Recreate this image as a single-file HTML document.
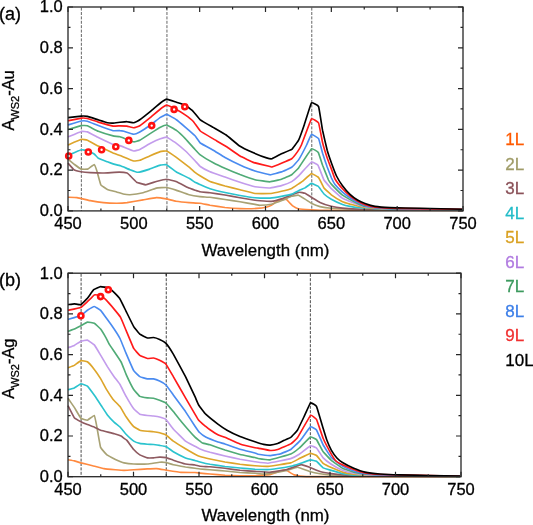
<!DOCTYPE html>
<html><head><meta charset="utf-8"><style>
html,body{margin:0;padding:0;background:#fff;}
body{width:533px;height:525px;overflow:hidden;}
svg{display:block;will-change:transform;}
text{font-family:"Liberation Sans",sans-serif;}
.tl{font-size:16.5px;fill:#000;stroke:#000;stroke-width:0.3px;}
.lg{font-size:17px;stroke-width:0.3px;}
.pl{font-size:18px;fill:#000;stroke:#000;stroke-width:0.3px;}
.yl{font-size:16.4px;fill:#000;stroke:#000;stroke-width:0.3px;}
.xt{font-size:16.9px;fill:#000;stroke:#000;stroke-width:0.3px;}
.sub{font-size:11px;}
</style></head><body>
<svg width="533" height="525" viewBox="0 0 533 525">
<rect width="533" height="525" fill="#fff"/>
<line x1="81.37" y1="7.6" x2="81.37" y2="210.9" stroke="#4a4a4a" stroke-width="0.85" stroke-dasharray="3 1.4"/>
<line x1="166.95" y1="7.6" x2="166.95" y2="210.9" stroke="#4a4a4a" stroke-width="0.85" stroke-dasharray="3 1.4"/>
<line x1="311.78" y1="7.6" x2="311.78" y2="210.9" stroke="#4a4a4a" stroke-width="0.85" stroke-dasharray="3 1.4"/>
<path d="M68,197.2 C68.38,197.22 76.17,197.46 77.1,197.6 C78.03,197.74 89.2,200.39 90.3,200.6 C91.4,200.81 102.3,202.49 103.4,202.6 C104.5,202.71 115.61,203.2 116.6,203.2 C117.59,203.2 126,202.74 127.1,202.6 C128.2,202.46 141.88,200.11 143.1,199.9 C144.32,199.69 155.33,197.64 156.3,197.6 C157.27,197.56 165.58,198.75 166.4,198.9 C167.22,199.05 175.05,201.05 176,201.2 C176.95,201.35 188.1,202.52 189.1,202.6 C190.1,202.68 199.13,203.09 200,203.2 C200.87,203.31 208.96,205.12 210,205.3 C211.04,205.48 223.75,207.36 225,207.5 C226.25,207.64 238.67,208.56 240,208.6 C241.33,208.64 255.88,208.47 257,208.4 C258.12,208.33 266.4,207.13 267,207 C267.6,206.87 270.89,205.53 271.3,205.3 C271.71,205.07 276.43,201.66 276.9,201.4 C277.37,201.14 282.1,199.18 282.5,199.1 C282.9,199.02 286.22,199.26 286.5,199.4 C286.78,199.54 289.04,202.23 289.3,202.5 C289.56,202.77 292.32,205.64 292.7,205.9 C293.07,206.16 297.55,208.54 298.3,208.7 C299.05,208.86 309.8,209.74 310.7,209.8 C311.6,209.86 313.7,210.18 320,210.2 C326.3,210.22 456.08,210.3 462,210.3" fill="none" stroke="#FF8A40" stroke-width="1.65" stroke-linejoin="round"/>
<path d="M68,159.2 C68.27,159.42 73.95,164.09 74.5,164.5 C75.05,164.91 80.55,168.91 81.1,169.1 C81.65,169.29 87.15,169.29 87.7,169.1 C88.25,168.91 93.82,164.42 94.2,164.5 C94.58,164.58 96.62,170.15 96.9,171 C97.18,171.85 100.36,184.03 100.8,184.8 C101.24,185.57 106.74,189.1 107.4,189.4 C108.06,189.7 115.95,191.81 116.6,192 C117.25,192.19 122.54,193.89 123.1,194 C123.66,194.11 129.17,194.75 130,194.7 C130.83,194.65 142,192.97 143.1,192.7 C144.2,192.42 155.33,188.32 156.3,188.1 C157.27,187.88 165.58,187.42 166.4,187.5 C167.22,187.58 175.05,189.8 176,190.1 C176.95,190.4 188.1,194.43 189.1,194.7 C190.1,194.97 199.13,196.49 200,196.6 C200.87,196.71 208.96,197.18 210,197.3 C211.04,197.42 223.75,199.31 225,199.5 C226.25,199.69 238.75,201.6 240,201.8 C241.25,202 254.17,204.25 255,204.4 C255.83,204.55 259.32,205.31 260,205.3 C260.68,205.29 270.36,204.41 271.3,204.2 C272.24,203.99 281.66,200.63 282.5,200.3 C283.34,199.97 290.84,196.51 291.5,196.3 C292.16,196.09 297.74,195.08 298.3,195.2 C298.86,195.32 304.44,198.75 305,199.1 C305.56,199.45 311.18,203.29 311.8,203.6 C312.43,203.91 319.19,206.4 320,206.6 C320.81,206.8 329.63,208.18 331.3,208.3 C332.97,208.42 354.55,209.43 360,209.5 C365.45,209.57 457.75,210.07 462,210.1" fill="none" stroke="#A8A274" stroke-width="1.65" stroke-linejoin="round"/>
<path d="M68,163.1 C68.25,163.38 73.35,169.34 73.9,169.7 C74.45,170.06 80.42,171.58 81.1,171.7 C81.78,171.82 89.37,172.55 90.3,172.6 C91.23,172.65 102.2,173.02 103.4,173 C104.6,172.98 118.21,172.1 119.2,172.1 C120.19,172.1 126.65,172.85 127.1,173 C127.55,173.15 129.6,175.22 130,175.6 C130.4,175.98 135.94,181.82 136.6,182.2 C137.26,182.58 144.98,184.83 145.8,184.8 C146.62,184.77 155.44,181.73 156.3,181.5 C157.16,181.27 165.58,179.2 166.4,179.2 C167.22,179.2 175.05,181.13 176,181.5 C176.95,181.87 188.31,187.74 189.1,188.1 C189.89,188.46 194.55,190.05 195,190.2 C195.45,190.35 199.38,191.69 200,191.8 C200.62,191.91 208.96,192.67 210,192.8 C211.04,192.93 223.75,194.8 225,195 C226.25,195.2 238.75,197.48 240,197.7 C241.25,197.92 254.17,200.17 255,200.3 C255.83,200.43 259.32,200.75 260,200.8 C260.68,200.85 270.36,201.49 271.3,201.4 C272.24,201.31 281.56,198.9 282.5,198.6 C283.44,198.3 293.1,194.37 293.8,194.1 C294.5,193.83 298.93,192.23 299.4,192.2 C299.87,192.17 304.48,193.08 305,193.3 C305.52,193.52 311.18,197.12 311.8,197.5 C312.43,197.88 319.19,202.03 320,202.4 C320.81,202.77 330.36,206.06 331.3,206.3 C332.24,206.54 341.3,207.98 342.5,208.1 C343.7,208.22 355.02,209.12 360,209.2 C364.98,209.28 457.75,209.97 462,210" fill="none" stroke="#8E5A60" stroke-width="1.65" stroke-linejoin="round"/>
<path d="M68,155.3 C68.56,155.07 80.59,149.99 81.4,149.8 C82.21,149.61 86.87,150.52 87.4,150.7 C87.93,150.88 93.75,153.69 94.2,154 C94.65,154.31 97.75,157.88 98.3,158.2 C98.85,158.52 106.78,161.56 107.4,161.8 C108.02,162.04 112.55,163.73 113.1,163.9 C113.65,164.07 119.8,165.56 120.5,165.8 C121.2,166.04 129.28,169.43 130,169.7 C130.72,169.97 137.08,172.33 137.9,172.3 C138.72,172.28 148.77,169.4 149.7,169.1 C150.63,168.8 159.5,165.28 160.2,165.1 C160.9,164.92 165.74,164.42 166.4,164.7 C167.06,164.97 175.05,171.13 176,171.7 C176.95,172.27 188.31,177.86 189.1,178.3 C189.89,178.74 194.55,182.04 195,182.3 C195.45,182.56 199.38,184.23 200,184.5 C200.62,184.77 208.96,188.37 210,188.7 C211.04,189.03 223.75,192.22 225,192.5 C226.25,192.78 238.75,195.28 240,195.5 C241.25,195.72 253.75,197.59 255,197.7 C256.25,197.81 268.9,198.15 270,198.1 C271.1,198.05 280.5,196.57 281.4,196.4 C282.3,196.23 290.98,194.34 291.7,194.1 C292.42,193.86 298.05,190.96 298.6,190.7 C299.15,190.44 304.47,188.2 305,187.9 C305.53,187.6 310.86,183.47 311.4,183.4 C311.94,183.33 317.64,185.88 318,186.1 C318.36,186.32 319.75,188.27 320,188.6 C320.25,188.93 323.53,193.55 324,194 C324.47,194.45 330.53,198.86 331.3,199.3 C332.07,199.74 341.72,204.2 342.5,204.5 C343.28,204.8 349.38,206.28 350,206.4 C350.62,206.53 355.62,207.37 357.5,207.5 C359.38,207.63 390.65,209.5 395,209.6 C399.35,209.7 459.21,209.89 462,209.9" fill="none" stroke="#2BC3CE" stroke-width="1.65" stroke-linejoin="round"/>
<path d="M68,145 C68.56,144.76 80.59,139.5 81.4,139.3 C82.21,139.1 86.7,139.92 87.4,140.2 C88.1,140.48 97.23,145.57 98.3,146.1 C99.37,146.63 112.2,152.61 113.1,153 C114,153.39 119.14,155.17 120,155.5 C120.86,155.83 132.88,160.8 133.7,161 C134.52,161.2 139.13,160.51 139.8,160.3 C140.47,160.09 148.85,156.26 149.7,155.9 C150.55,155.54 159.5,151.8 160.2,151.6 C160.9,151.4 165.74,150.77 166.4,151 C167.06,151.23 175.05,156.53 176,157.2 C176.95,157.87 188.31,166.47 189.1,167.1 C189.89,167.73 194.55,171.94 195,172.3 C195.45,172.66 199.38,175.42 200,175.8 C200.62,176.18 208.96,181.07 210,181.5 C211.04,181.93 223.75,185.65 225,186 C226.25,186.35 238.75,189.49 240,189.8 C241.25,190.11 253.71,193.35 255,193.5 C256.29,193.65 269.9,193.59 271,193.5 C272.1,193.41 280.54,191.51 281.4,191.3 C282.26,191.09 290.98,188.71 291.7,188.4 C292.42,188.09 298.14,184.2 298.6,183.9 C299.06,183.6 302.27,181.53 302.8,181.1 C303.33,180.67 310.77,173.77 311.4,173.6 C312.03,173.43 317.64,176.73 318,177 C318.36,177.27 319.75,179.64 320,180.1 C320.25,180.56 323.53,187.39 324,188 C324.47,188.61 330.53,194.23 331.3,194.8 C332.07,195.37 341.72,201.31 342.5,201.7 C343.28,202.09 349.38,203.92 350,204.1 C350.62,204.28 356.88,205.86 357.5,206 C358.12,206.14 363.44,207.35 365,207.5 C366.56,207.65 390.96,209.4 395,209.5 C399.04,209.6 459.21,209.79 462,209.8" fill="none" stroke="#DDA52A" stroke-width="1.65" stroke-linejoin="round"/>
<path d="M68,137 C68.56,136.77 80.59,131.71 81.4,131.5 C82.21,131.29 86.7,131.65 87.4,131.9 C88.1,132.15 97.23,137.08 98.3,137.6 C99.37,138.12 112.2,144.07 113.1,144.4 C114,144.73 119.14,145.32 120,145.6 C120.86,145.88 132.88,150.84 133.7,151 C134.52,151.16 139.1,149.72 139.8,149.4 C140.5,149.08 149.64,143.74 150.5,143.3 C151.36,142.86 159.72,139.05 160.4,138.8 C161.08,138.55 166.13,137.01 166.8,137.2 C167.47,137.39 175.62,142.73 176.4,143.3 C177.18,143.88 184.72,150.27 185.5,151 C186.28,151.73 194.38,160.15 195,160.8 C195.62,161.45 199.68,166.04 200.3,166.5 C200.93,166.96 208.97,171.36 210,171.8 C211.03,172.24 223.75,176.56 225,177 C226.25,177.44 238.75,181.89 240,182.3 C241.25,182.71 253.75,186.56 255,186.8 C256.25,187.04 268.9,188.05 270,188 C271.1,187.95 280.5,185.87 281.4,185.6 C282.3,185.33 290.98,182 291.7,181.6 C292.42,181.2 297.78,176.71 298.6,175.9 C299.42,175.09 310.59,162.54 311.4,162.1 C312.21,161.66 317.48,164.55 318,165.3 C318.52,166.05 323.45,179.03 324,180 C324.55,180.97 330.53,187.84 331.3,188.6 C332.07,189.36 341.72,197.76 342.5,198.3 C343.28,198.84 349.38,201.24 350,201.5 C350.62,201.76 356.88,204.28 357.5,204.5 C358.12,204.72 363.44,206.6 365,206.8 C366.56,207 390.96,209.28 395,209.4 C399.04,209.52 459.21,209.69 462,209.7" fill="none" stroke="#C39CEC" stroke-width="1.65" stroke-linejoin="round"/>
<path d="M68,129.6 C68.56,129.43 80.59,125.76 81.4,125.6 C82.21,125.44 86.7,125.56 87.4,125.8 C88.1,126.04 97.23,130.88 98.3,131.3 C99.37,131.72 112.2,135.67 113.1,135.9 C114,136.13 119.14,136.55 120,136.8 C120.86,137.05 132.88,141.65 133.7,141.8 C134.52,141.95 139.1,140.65 139.8,140.3 C140.5,139.95 149.64,133.94 150.5,133.4 C151.36,132.86 159.72,127.65 160.4,127.3 C161.08,126.95 166.13,124.87 166.8,125 C167.47,125.13 175.62,129.83 176.4,130.4 C177.18,130.97 184.72,138 185.5,138.8 C186.28,139.6 194.38,148.83 195,149.5 C195.62,150.17 199.54,154.35 200.3,154.9 C201.06,155.45 212.23,162.22 213.3,162.8 C214.37,163.38 224.89,168.31 226,168.8 C227.11,169.29 238.79,174.14 240,174.6 C241.21,175.06 253.75,179.5 255,179.8 C256.25,180.1 268.9,181.82 270,181.8 C271.1,181.78 280.5,179.6 281.4,179.3 C282.3,179 290.98,175.17 291.7,174.7 C292.42,174.22 297.78,168.98 298.6,167.9 C299.43,166.82 310.68,149.44 311.5,148.8 C312.32,148.16 317.84,151.81 318.3,152.5 C318.76,153.19 322.18,164.15 322.6,165.3 C323.03,166.45 328.14,179.22 328.5,180 C328.86,180.78 330.72,183.47 331.3,184.1 C331.88,184.73 341.72,194.55 342.5,195.2 C343.28,195.85 349.38,199.26 350,199.6 C350.62,199.94 356.88,203.12 357.5,203.4 C358.12,203.68 363.44,206.05 365,206.3 C366.56,206.55 390.96,209.16 395,209.3 C399.04,209.44 459.21,209.59 462,209.6" fill="none" stroke="#50AB76" stroke-width="1.65" stroke-linejoin="round"/>
<path d="M68,125 C68.56,124.83 80.59,121.16 81.4,121 C82.21,120.84 86.7,121.01 87.4,121.2 C88.1,121.39 97.23,125.2 98.3,125.6 C99.37,126 112.2,130.49 113.1,130.7 C114,130.91 119.55,130.57 120,130.6 C120.45,130.62 123.43,131.15 124,131.3 C124.57,131.45 133.04,134.17 133.7,134.2 C134.36,134.22 139.1,132.28 139.8,131.9 C140.5,131.52 149.64,125.6 150.5,125 C151.36,124.4 159.72,117.84 160.4,117.4 C161.08,116.96 166.13,114.3 166.8,114.4 C167.47,114.5 175.62,119.16 176.4,119.7 C177.18,120.24 184.72,126.63 185.5,127.3 C186.28,127.97 194.38,135.15 195,135.8 C195.62,136.45 199.54,142.4 200.3,143 C201.06,143.6 212.27,149.7 213.3,150.3 C214.33,150.9 223.89,156.89 225,157.5 C226.11,158.11 238.75,164.44 240,165 C241.25,165.56 253.75,170.59 255,171 C256.25,171.41 268.9,174.76 270,174.8 C271.1,174.84 280.5,172.21 281.4,171.9 C282.3,171.59 290.98,167.8 291.7,167.3 C292.42,166.8 297.98,160.83 298.6,159.9 C299.22,158.97 306.07,146.06 306.6,145 C307.13,143.94 310.9,134.67 311.4,134.4 C311.9,134.13 318.13,137.81 318.6,138.6 C319.07,139.39 322.24,152.12 322.6,153.3 C322.96,154.48 326.83,165.97 327.2,167 C327.57,168.03 331.18,177.27 331.5,178 C331.82,178.73 334.54,183.91 335,184.5 C335.46,185.09 341.88,191.55 342.5,192.1 C343.12,192.65 349.38,197.38 350,197.8 C350.62,198.23 356.88,201.98 357.5,202.3 C358.12,202.62 364.27,205.38 365,205.6 C365.73,205.82 373.75,207.47 375,207.6 C376.25,207.73 391.38,208.72 395,208.8 C398.62,208.88 459.21,209.47 462,209.5" fill="none" stroke="#4A8BF0" stroke-width="1.65" stroke-linejoin="round"/>
<path d="M68,120.7 C68.56,120.59 80.59,118.19 81.4,118.1 C82.21,118.01 86.7,118.33 87.4,118.5 C88.1,118.67 97.23,121.78 98.3,122.1 C99.37,122.42 112.2,125.95 113.1,126.1 C114,126.25 119.42,125.8 120,125.8 C120.58,125.8 126.33,126.02 126.9,126.1 C127.47,126.18 133.16,127.81 133.7,127.8 C134.24,127.79 139.1,126.23 139.8,125.8 C140.5,125.37 149.64,118.1 150.5,117.4 C151.36,116.7 159.72,109.51 160.4,109 C161.08,108.49 166.13,105.18 166.8,105.2 C167.47,105.22 175.62,109.09 176.4,109.5 C177.18,109.91 184.8,114.61 185.5,115.1 C186.2,115.59 192.48,120.54 193.1,121.2 C193.72,121.86 199.46,130.26 200.3,131 C201.14,131.74 212.22,138.25 213.3,138.9 C214.38,139.55 225.09,145.79 226.2,146.5 C227.31,147.21 238.84,155.33 240,156 C241.16,156.67 252.75,162.16 254,162.6 C255.25,163.04 269.25,166.32 270,166.5 C270.75,166.68 271.52,167.13 272,167 C272.48,166.87 280.58,163.65 281.4,163.3 C282.22,162.95 291.03,159.17 291.7,158.7 C292.37,158.22 297,152.47 297.4,151.9 C297.8,151.33 300.82,146.37 301.4,145 C301.98,143.63 310.68,119.92 311.4,119 C312.12,118.08 318.13,122.01 318.6,123 C319.07,123.99 322.24,141.25 322.6,142.7 C322.96,144.15 326.82,156.76 327.2,157.9 C327.58,159.04 331.48,169.22 331.8,170.1 C332.12,170.98 334.55,178.22 335,179 C335.45,179.78 341.88,188.1 342.5,188.8 C343.12,189.5 349.38,195.39 350,195.9 C350.62,196.41 356.88,200.73 357.5,201.1 C358.12,201.47 364.27,204.45 365,204.7 C365.73,204.95 373.75,206.95 375,207.1 C376.25,207.25 391.38,208.31 395,208.4 C398.62,208.49 459.21,209.26 462,209.3" fill="none" stroke="#FF1A1A" stroke-width="1.65" stroke-linejoin="round"/>
<path d="M68,117.6 C68.56,117.54 80.59,116.15 81.4,116.1 C82.21,116.05 86.7,116.24 87.4,116.4 C88.1,116.56 97.47,119.64 98.3,119.9 C99.13,120.16 106.78,122.57 107.4,122.7 C108.02,122.83 112.57,123.12 113.1,123.1 C113.62,123.08 119.42,122.36 120,122.3 C120.58,122.24 126.33,121.68 126.9,121.7 C127.47,121.72 133.16,122.88 133.7,122.8 C134.24,122.72 139.1,120.18 139.8,119.7 C140.5,119.22 149.64,112 150.5,111.3 C151.36,110.6 159.72,103.51 160.4,103 C161.08,102.49 166.13,99.13 166.8,99.1 C167.47,99.07 175.62,101.95 176.4,102.2 C177.18,102.45 184.8,104.82 185.5,105.2 C186.2,105.58 192.48,110.69 193.1,111.3 C193.72,111.91 199.46,119.13 200.3,119.8 C201.14,120.47 212.22,126.77 213.3,127.4 C214.38,128.03 225.12,134.24 226.2,135 C227.28,135.76 238.09,144.97 239.2,145.7 C240.31,146.43 251.76,152.09 252.9,152.6 C254.04,153.11 265.8,157.65 266.6,157.9 C267.4,158.15 271.38,158.87 272,158.7 C272.62,158.53 280.58,154.19 281.4,153.8 C282.22,153.41 290.98,149.97 291.7,149.4 C292.42,148.83 298.08,141.13 298.6,140.1 C299.12,139.07 303.77,126.25 304.3,124.7 C304.83,123.15 310.8,103.75 311.4,103 C312,102.25 318.13,105.45 318.6,106.6 C319.07,107.75 322.24,128.68 322.6,130.5 C322.96,132.32 326.82,148.9 327.2,150.3 C327.58,151.7 331.41,162.93 331.8,164 C332.19,165.07 336.05,175.09 336.5,176 C336.95,176.91 341.94,185.03 342.5,185.8 C343.06,186.57 349.38,193.81 350,194.4 C350.62,194.99 356.88,199.62 357.5,200 C358.12,200.38 364.27,203.23 365,203.5 C365.73,203.77 373.96,206.23 375,206.4 C376.04,206.57 388.12,207.52 390,207.6 C391.88,207.68 417,208.23 420,208.3 C423,208.37 460.25,209.16 462,209.2" fill="none" stroke="#000000" stroke-width="1.65" stroke-linejoin="round"/>
<circle cx="68.7" cy="156" r="2.5" fill="#fff" stroke="#FF1010" stroke-width="2.6"/>
<circle cx="88.3" cy="152" r="2.5" fill="#fff" stroke="#FF1010" stroke-width="2.6"/>
<circle cx="101.6" cy="149.8" r="2.5" fill="#fff" stroke="#FF1010" stroke-width="2.6"/>
<circle cx="115.8" cy="146.7" r="2.5" fill="#fff" stroke="#FF1010" stroke-width="2.6"/>
<circle cx="128.8" cy="140.4" r="2.5" fill="#fff" stroke="#FF1010" stroke-width="2.6"/>
<circle cx="151.7" cy="125.6" r="2.5" fill="#fff" stroke="#FF1010" stroke-width="2.6"/>
<circle cx="174.1" cy="109.4" r="2.5" fill="#fff" stroke="#FF1010" stroke-width="2.6"/>
<circle cx="184.8" cy="106.8" r="2.5" fill="#fff" stroke="#FF1010" stroke-width="2.6"/>
<path d="M68,210.9 V205.9 M68,7 V12 M100.92,210.9 V208.4 M100.92,7 V9.5 M133.83,210.9 V205.9 M133.83,7 V12 M166.75,210.9 V208.4 M166.75,7 V9.5 M199.67,210.9 V205.9 M199.67,7 V12 M232.58,210.9 V208.4 M232.58,7 V9.5 M265.5,210.9 V205.9 M265.5,7 V12 M298.42,210.9 V208.4 M298.42,7 V9.5 M331.33,210.9 V205.9 M331.33,7 V12 M364.25,210.9 V208.4 M364.25,7 V9.5 M397.17,210.9 V205.9 M397.17,7 V12 M430.08,210.9 V208.4 M430.08,7 V9.5 M463,210.9 V205.9 M463,7 V12 M68,210.9 H73 M463,210.9 H458 M68,190.51 H70.5 M463,190.51 H460.5 M68,170.12 H73 M463,170.12 H458 M68,149.73 H70.5 M463,149.73 H460.5 M68,129.34 H73 M463,129.34 H458 M68,108.95 H70.5 M463,108.95 H460.5 M68,88.56 H73 M463,88.56 H458 M68,68.17 H70.5 M463,68.17 H460.5 M68,47.78 H73 M463,47.78 H458 M68,27.39 H70.5 M463,27.39 H460.5 M68,7 H73 M463,7 H458" fill="none" stroke="#262626" stroke-width="1.2"/>
<rect x="68" y="7" width="395" height="203.9" fill="none" stroke="#262626" stroke-width="1.3"/>
<text x="68" y="228.6" text-anchor="middle" class="tl">450</text>
<text x="133.83" y="228.6" text-anchor="middle" class="tl">500</text>
<text x="199.67" y="228.6" text-anchor="middle" class="tl">550</text>
<text x="265.5" y="228.6" text-anchor="middle" class="tl">600</text>
<text x="331.33" y="228.6" text-anchor="middle" class="tl">650</text>
<text x="397.17" y="228.6" text-anchor="middle" class="tl">700</text>
<text x="463" y="228.6" text-anchor="middle" class="tl">750</text>
<text x="62.7" y="216.2" text-anchor="end" class="tl">0.0</text>
<text x="62.7" y="175.42" text-anchor="end" class="tl">0.2</text>
<text x="62.7" y="134.64" text-anchor="end" class="tl">0.4</text>
<text x="62.7" y="93.86" text-anchor="end" class="tl">0.6</text>
<text x="62.7" y="53.08" text-anchor="end" class="tl">0.8</text>
<text x="62.7" y="12.3" text-anchor="end" class="tl">1.0</text>
<line x1="81.1" y1="273.8" x2="81.1" y2="476.7" stroke="#4a4a4a" stroke-width="1" stroke-dasharray="3 1.4"/>
<line x1="166.25" y1="273.8" x2="166.25" y2="476.7" stroke="#4a4a4a" stroke-width="1" stroke-dasharray="3 1.4"/>
<line x1="310.35" y1="273.8" x2="310.35" y2="476.7" stroke="#4a4a4a" stroke-width="1" stroke-dasharray="3 1.4"/>
<path d="M68,459.8 C68.26,459.85 73.76,460.77 74.3,460.9 C74.84,461.03 80.14,462.7 80.9,462.9 C81.66,463.1 91.64,465.46 92.6,465.7 C93.56,465.94 103.05,468.43 104,468.6 C104.95,468.77 114.57,469.63 115.4,469.7 C116.23,469.77 123.24,470.3 124,470.3 C124.76,470.3 132.72,469.86 133.7,469.8 C134.67,469.74 146.45,468.95 147.4,468.9 C148.35,468.85 155.82,468.55 156.6,468.6 C157.38,468.65 164.98,469.94 166,470.1 C167.02,470.26 179.79,472.3 181,472.4 C182.21,472.5 194.21,472.47 195,472.5 C195.79,472.53 199.38,473.04 200,473.1 C200.62,473.16 208.96,473.91 210,474 C211.04,474.09 223.75,475.22 225,475.3 C226.25,475.38 238.75,475.88 240,475.9 C241.25,475.92 253.96,475.94 255,475.9 C256.04,475.86 264.38,474.95 265,474.9 C265.62,474.85 269.36,474.96 270,474.8 C270.64,474.64 279.75,471.21 280.4,471 C281.05,470.79 285.03,469.64 285.6,469.8 C286.18,469.96 293.34,474.62 294.2,474.9 C295.06,475.18 299.29,476.53 306.2,476.6 C313.11,476.67 453.59,476.6 460,476.6" fill="none" stroke="#FF8A40" stroke-width="1.65" stroke-linejoin="round"/>
<path d="M68,398.3 C68.26,398.68 73.76,406.57 74.3,407.4 C74.84,408.23 80.35,417.77 80.9,418.3 C81.45,418.83 86.84,420.32 87.4,420.2 C87.96,420.08 93.9,415.12 94.3,415.4 C94.7,415.68 96.64,425.67 96.9,427 C97.16,428.33 100.18,446.24 100.6,447.4 C101.02,448.56 106.28,454.4 106.9,454.9 C107.52,455.4 114.85,459.13 115.4,459.4 C115.95,459.67 119.64,461.25 120,461.4 C120.36,461.55 123.43,462.79 124,462.9 C124.57,463.01 132.72,463.95 133.7,464 C134.67,464.05 146.32,464.07 147.4,464 C148.48,463.93 158.82,462.26 159.6,462.2 C160.38,462.14 165.43,462.39 166,462.5 C166.57,462.61 172.49,464.61 173.3,464.8 C174.11,464.99 184.6,466.85 185.5,467 C186.4,467.15 194.4,468.22 195,468.3 C195.6,468.38 199.38,468.94 200,469 C200.62,469.06 208.96,469.72 210,469.8 C211.04,469.88 223.75,470.89 225,471 C226.25,471.11 238.75,472.4 240,472.5 C241.25,472.6 253.96,473.24 255,473.3 C256.04,473.36 263.73,474.11 265,474 C266.27,473.89 284.24,470.88 285.6,470.6 C286.96,470.32 296.6,467.16 297.6,467.2 C298.6,467.24 308.67,471.23 309.6,471.5 C310.53,471.77 319.1,473.65 320,473.8 C320.9,473.95 329.63,475 331.3,475.1 C332.97,475.2 354.64,476.14 360,476.2 C365.36,476.26 455.83,476.58 460,476.6" fill="none" stroke="#A8A274" stroke-width="1.65" stroke-linejoin="round"/>
<path d="M68,405.7 C68.26,406.2 73.76,417.03 74.3,417.7 C74.84,418.37 80.35,421.41 80.9,421.7 C81.45,421.99 86.82,424.36 87.4,424.6 C87.98,424.84 94.35,427.16 94.9,427.4 C95.45,427.64 99.79,430.04 100.6,430.3 C101.41,430.56 113.45,433.46 114.3,433.7 C115.15,433.94 120.7,435.81 121.1,436 C121.5,436.19 123.76,438.12 124,438.3 C124.24,438.48 126.5,439.93 126.9,440.4 C127.3,440.87 133.16,448.9 133.7,449.5 C134.24,450.1 139.23,454.55 139.8,454.9 C140.37,455.25 146.83,457.77 147.4,457.9 C147.97,458.02 152.99,457.93 153.5,457.9 C154.01,457.87 159.08,457.11 159.6,457.1 C160.12,457.09 165.43,457.47 166,457.6 C166.57,457.73 172.49,459.93 173.3,460.2 C174.11,460.47 184.6,463.8 185.5,464 C186.4,464.2 194.4,464.9 195,465 C195.6,465.1 199.38,466.23 200,466.3 C200.62,466.38 208.96,466.72 210,466.8 C211.04,466.88 223.75,468.15 225,468.3 C226.25,468.45 238.75,470.17 240,470.3 C241.25,470.43 253.75,471.32 255,471.4 C256.25,471.48 268.73,472.37 270,472.3 C271.27,472.23 284.31,470.12 285.6,469.8 C286.89,469.48 300,464.71 301,464.6 C302,464.49 308.81,466.91 309.6,467.2 C310.39,467.49 319.1,471.23 320,471.5 C320.9,471.77 330.36,473.46 331.3,473.6 C332.24,473.74 341.3,474.81 342.5,474.9 C343.7,474.99 355.1,475.73 360,475.8 C364.9,475.87 455.83,476.57 460,476.6" fill="none" stroke="#8E5A60" stroke-width="1.65" stroke-linejoin="round"/>
<path d="M68,389.7 C68.26,389.63 73.76,388.25 74.3,388 C74.84,387.75 80.35,383.88 80.9,383.8 C81.45,383.72 86.82,385.59 87.4,386.1 C87.98,386.61 94.3,395.16 94.9,396 C95.5,396.84 101.18,405.51 101.7,406.3 C102.22,407.09 106.88,414.23 107.4,414.9 C107.93,415.57 113.77,421.8 114.3,422.3 C114.83,422.8 119.51,426.5 120,427 C120.49,427.5 125.53,433.71 126.1,434.3 C126.67,434.89 133.13,440.72 133.7,441.1 C134.27,441.48 139.23,443.27 139.8,443.4 C140.37,443.53 146.83,444.15 147.4,444.2 C147.97,444.25 152.99,444.45 153.5,444.5 C154.01,444.55 159.08,445.32 159.6,445.4 C160.12,445.48 165.43,446.23 166,446.5 C166.57,446.77 172.49,451.32 173.3,451.8 C174.11,452.28 184.6,457.54 185.5,457.9 C186.4,458.26 194.4,460.33 195,460.5 C195.6,460.67 199.38,461.84 200,462 C200.62,462.16 208.96,464.11 210,464.3 C211.04,464.49 223.75,466.35 225,466.5 C226.25,466.65 238.75,467.89 240,468 C241.25,468.11 253.75,469.14 255,469.2 C256.25,469.26 268.51,469.62 270,469.5 C271.49,469.38 289.48,466.54 290.7,466.3 C291.92,466.06 298.48,464.07 299.3,463.8 C300.12,463.53 309.78,460 310.5,459.9 C311.22,459.8 315.97,460.97 316.5,461.3 C317.03,461.63 322.58,467.52 323.2,467.9 C323.82,468.28 330.5,470.16 331.3,470.4 C332.1,470.64 341.3,473.4 342.5,473.6 C343.7,473.8 355.1,475.18 360,475.3 C364.9,475.42 455.83,476.45 460,476.5" fill="none" stroke="#2BC3CE" stroke-width="1.65" stroke-linejoin="round"/>
<path d="M68,367.7 C68.26,367.6 73.76,365.7 74.3,365.4 C74.84,365.1 80.35,360.75 80.9,360.6 C81.45,360.45 86.84,361.43 87.4,361.8 C87.96,362.17 93.75,368.7 94.3,369.4 C94.85,370.1 100.1,377.78 100.6,378.6 C101.1,379.43 105.78,388.33 106.3,389.2 C106.82,390.07 112.53,398.67 113.1,399.4 C113.67,400.12 119.46,405.88 120,406.6 C120.54,407.33 125.53,415.96 126.1,416.8 C126.67,417.64 133.13,426.14 133.7,426.7 C134.27,427.26 139.23,430.01 139.8,430.2 C140.37,430.39 146.83,431.14 147.4,431.2 C147.97,431.26 152.99,431.63 153.5,431.7 C154.01,431.77 159.08,432.66 159.6,432.8 C160.12,432.94 165.43,434.65 166,435 C166.57,435.35 172.49,440.53 173.3,441.1 C174.11,441.68 184.6,448.25 185.5,448.8 C186.4,449.35 194.4,453.88 195,454.2 C195.6,454.52 199.38,456.3 200,456.5 C200.62,456.7 208.96,458.77 210,459 C211.04,459.23 223.75,461.78 225,462 C226.25,462.22 238.75,464.14 240,464.3 C241.25,464.46 253.83,465.71 255,465.8 C256.17,465.89 266.51,466.52 268,466.4 C269.49,466.28 289.4,463.22 290.7,462.9 C292,462.57 298.48,459 299.3,458.6 C300.12,458.2 309.78,453.53 310.5,453.4 C311.22,453.27 315.97,455.08 316.5,455.5 C317.03,455.92 322.58,462.9 323.2,463.4 C323.82,463.9 330.5,467.24 331.3,467.6 C332.1,467.96 341.56,471.82 342.5,472.1 C343.44,472.38 352.65,474.16 353.8,474.3 C354.95,474.44 365.57,475.41 370,475.5 C374.43,475.59 456.25,476.46 460,476.5" fill="none" stroke="#DDA52A" stroke-width="1.65" stroke-linejoin="round"/>
<path d="M68,347.7 C68.26,347.6 73.76,345.67 74.3,345.4 C74.84,345.13 80.35,341.42 80.9,341.2 C81.45,340.98 86.84,339.95 87.4,340.1 C87.96,340.25 93.75,344.27 94.3,344.9 C94.85,345.52 100.05,354.2 100.6,355.1 C101.15,356 106.83,365.69 107.4,366.6 C107.97,367.51 113.77,376.15 114.3,376.9 C114.83,377.65 119.51,383.69 120,384.5 C120.49,385.31 125.53,395.39 126.1,396.4 C126.67,397.41 133.13,408.06 133.7,408.8 C134.27,409.54 139.23,413.92 139.8,414.2 C140.37,414.48 146.83,415.43 147.4,415.5 C147.97,415.57 152.99,415.94 153.5,416 C154.01,416.06 159.08,416.85 159.6,417 C160.12,417.15 165.43,419 166,419.5 C166.57,420 172.49,428.1 173.3,429 C174.11,429.9 184.6,440.38 185.5,441.1 C186.4,441.82 194.4,445.97 195,446.3 C195.6,446.63 199.38,448.75 200,449 C200.62,449.25 208.96,452.01 210,452.3 C211.04,452.59 223.75,455.71 225,456 C226.25,456.29 238.75,459.06 240,459.3 C241.25,459.54 253.83,461.54 255,461.7 C256.17,461.86 266.51,463.33 268,463.2 C269.49,463.07 289.4,458.97 290.7,458.6 C292,458.23 298.48,454.83 299.3,454.3 C300.12,453.77 309.78,446.06 310.5,445.8 C311.22,445.54 315.97,447.5 316.5,448 C317.03,448.5 322.58,457.22 323.2,457.9 C323.82,458.57 330.5,463.69 331.3,464.2 C332.1,464.71 341.56,469.82 342.5,470.2 C343.44,470.57 352.65,473 353.8,473.2 C354.95,473.4 365.57,474.86 370,475 C374.43,475.14 456.25,476.44 460,476.5" fill="none" stroke="#C39CEC" stroke-width="1.65" stroke-linejoin="round"/>
<path d="M68,331.4 C68.26,331.3 73.76,329.34 74.3,329.1 C74.84,328.86 80.35,325.99 80.9,325.7 C81.45,325.41 86.84,322.2 87.4,322.1 C87.96,322 93.75,322.91 94.3,323.2 C94.85,323.49 100.1,328.47 100.6,329.1 C101.1,329.73 105.92,337.64 106.3,338.3 C106.68,338.96 109.08,343.91 109.7,344.9 C110.32,345.89 120.42,360.77 121.1,362 C121.78,363.23 125.57,373.15 126.1,374.3 C126.62,375.45 133.13,388.58 133.7,389.5 C134.27,390.42 139.23,396.05 139.8,396.4 C140.37,396.75 146.83,397.82 147.4,397.9 C147.97,397.97 152.99,398.1 153.5,398.2 C154.01,398.3 159.08,400 159.6,400.2 C160.12,400.4 165.43,402.62 166,403.1 C166.57,403.58 172.68,410.84 173.3,411.6 C173.93,412.36 180.1,420.23 181,421.3 C181.9,422.37 194.1,436.29 195,437.2 C195.9,438.11 201.97,442.78 202.6,443.1 C203.22,443.42 209.07,444.51 210,444.8 C210.93,445.09 223.75,449.6 225,450 C226.25,450.4 238.75,454.19 240,454.5 C241.25,454.81 254.25,457.33 255,457.5 C255.75,457.67 257.38,458.4 258,458.5 C258.62,458.6 268.63,460.09 270,459.9 C271.37,459.71 289.58,454.5 290.8,454 C292.02,453.5 298.48,448.71 299.3,448 C300.12,447.29 309.78,437.35 310.5,437 C311.22,436.65 315.97,438.98 316.5,439.6 C317.03,440.22 322.58,450.94 323.2,451.8 C323.82,452.66 330.5,459.62 331.3,460.3 C332.1,460.98 341.56,467.71 342.5,468.2 C343.44,468.69 352.65,471.84 353.8,472.1 C354.95,472.36 365.57,474.32 370,474.5 C374.43,474.68 456.25,476.32 460,476.4" fill="none" stroke="#50AB76" stroke-width="1.65" stroke-linejoin="round"/>
<path d="M68,319.4 C68.54,319.23 80.09,315.78 80.9,315.4 C81.71,315.02 86.84,310.67 87.4,310.3 C87.96,309.93 93.75,306.5 94.3,306.5 C94.85,306.5 100.05,309.76 100.6,310.3 C101.15,310.84 106.83,318.71 107.4,319.5 C107.97,320.29 113.77,328.41 114.3,329.2 C114.83,329.99 119.51,337.49 120,338.5 C120.49,339.51 125.53,352.06 126.1,353.4 C126.67,354.74 133.13,369.73 133.7,370.7 C134.27,371.67 139.23,376.26 139.8,376.6 C140.37,376.94 146.83,378.8 147.4,378.9 C147.97,379 152.99,378.81 153.5,378.9 C154.01,378.99 159.08,380.85 159.6,381.1 C160.12,381.35 165.43,384.43 166,385 C166.57,385.57 172.49,393.79 173.3,394.9 C174.11,396.01 184.6,410.3 185.5,411.6 C186.4,412.9 194.41,425.33 195,426.2 C195.59,427.07 199.15,432.05 199.6,432.5 C200.05,432.95 204.93,436.6 205.7,437 C206.47,437.4 217.2,441.71 218,442 C218.8,442.29 224.08,443.7 225,444 C225.92,444.3 238.75,448.93 240,449.3 C241.25,449.68 254.25,452.8 255,453 C255.75,453.2 257.37,454.09 258,454.2 C258.63,454.31 269.28,455.61 270.2,455.6 C271.12,455.59 279.14,454.25 280,454 C280.86,453.75 289.96,450.06 290.8,449.5 C291.64,448.94 299.38,441.55 300.2,440.6 C301.02,439.65 309.82,427.24 310.5,426.8 C311.18,426.36 315.97,429.24 316.5,430 C317.03,430.76 322.58,443.85 323.2,445 C323.82,446.15 330.5,456.62 331.3,457.5 C332.1,458.38 341.56,465.54 342.5,466.1 C343.44,466.66 352.86,470.68 353.8,471 C354.74,471.32 363.49,473.62 365,473.8 C366.51,473.98 386.04,475.2 390,475.3 C393.96,475.4 457.08,476.26 460,476.3" fill="none" stroke="#4A8BF0" stroke-width="1.65" stroke-linejoin="round"/>
<path d="M68,310.3 C68.54,310.18 80.09,307.76 80.9,307.4 C81.71,307.04 86.84,302.22 87.4,301.7 C87.96,301.18 93.75,295.16 94.3,294.9 C94.85,294.64 100.1,295.18 100.6,295.4 C101.1,295.62 105.73,299.62 106.3,300.2 C106.87,300.78 113.7,308.68 114.3,309.4 C114.9,310.12 120.11,316.52 120.6,317.4 C121.09,318.27 125.55,329.11 126.1,330.4 C126.65,331.69 133.13,347.36 133.7,348.4 C134.27,349.44 139.23,354.88 139.8,355.3 C140.37,355.72 146.83,358.39 147.4,358.5 C147.97,358.61 152.99,357.93 153.5,358 C154.01,358.07 159.08,360.04 159.6,360.3 C160.12,360.56 165.43,363.52 166,364.2 C166.57,364.88 172.49,375.2 173.3,376.6 C174.11,378 184.45,396.09 185.5,397.9 C186.55,399.71 197.66,418.81 198.5,420 C199.34,421.19 205.22,425.99 205.7,426.4 C206.18,426.81 209.49,429.45 210,429.8 C210.51,430.15 217.28,434.49 217.9,434.8 C218.53,435.11 224.08,436.92 225,437.3 C225.92,437.68 238.75,443.56 240,444 C241.25,444.44 254.25,447.63 255,447.8 C255.75,447.97 257.37,447.99 258,448.1 C258.63,448.21 269.38,450.44 270.2,450.5 C271.02,450.56 276.84,449.77 277.7,449.5 C278.56,449.23 289.98,444.39 290.8,443.9 C291.62,443.41 296.58,438.98 297.4,437.8 C298.22,436.62 309.7,416.27 310.5,415.5 C311.3,414.73 315.97,418.44 316.5,419.4 C317.03,420.36 322.58,437.05 323.2,438.5 C323.82,439.95 330.77,453.16 331.3,454.1 C331.83,455.04 335.53,460.56 336,461 C336.47,461.44 341.76,464.35 342.5,464.7 C343.24,465.05 352.86,469.16 353.8,469.5 C354.74,469.84 363.91,472.69 365,472.9 C366.09,473.11 376.04,474.36 380,474.5 C383.96,474.64 456.67,476.13 460,476.2" fill="none" stroke="#FF1A1A" stroke-width="1.65" stroke-linejoin="round"/>
<path d="M68,304.6 C68.26,304.57 73.76,303.8 74.3,303.8 C74.84,303.8 80.35,304.83 80.9,304.6 C81.45,304.37 86.87,298.92 87.4,298.3 C87.93,297.68 93.15,290.19 93.7,289.7 C94.25,289.21 99.98,286.67 100.6,286.6 C101.22,286.53 108.03,287.75 108.6,288 C109.17,288.25 113.83,292.14 114.3,292.6 C114.77,293.06 119.51,298.22 120,299 C120.49,299.78 125.53,310.15 126.1,311.3 C126.67,312.45 133.13,325.65 133.7,326.6 C134.27,327.55 139.23,333.72 139.8,334.2 C140.37,334.68 146.83,337.86 147.4,338 C147.97,338.14 152.99,337.44 153.5,337.5 C154.01,337.56 159.08,339.25 159.6,339.5 C160.12,339.75 165.43,342.79 166,343.4 C166.57,344.01 172.49,352.82 173.3,354.2 C174.11,355.58 184.6,374.83 185.5,376.6 C186.4,378.37 194.45,395.5 195,396.7 C195.55,397.9 198.35,404.57 198.8,405.3 C199.25,406.03 204.9,413.42 205.7,414.2 C206.5,414.98 217.01,423.43 217.9,424.1 C218.79,424.77 226.08,429.68 227,430.2 C227.92,430.72 238.83,436.02 240,436.5 C241.17,436.98 254.02,441.47 255,441.8 C255.98,442.13 262.97,444.26 263.6,444.4 C264.23,444.54 269.61,445.14 270.2,445.1 C270.79,445.06 277.11,443.7 277.7,443.5 C278.29,443.3 283.75,440.45 284.3,440.2 C284.85,439.95 290.25,437.81 290.8,437.4 C291.35,436.99 296.83,431.2 297.4,430.3 C297.97,429.4 303.95,416.84 304.5,415.7 C305.05,414.56 310,403.29 310.5,402.9 C311,402.51 315.97,405.23 316.5,406.3 C317.03,407.37 322.77,427.1 323.2,428.5 C323.63,429.9 326.46,439.1 326.8,440 C327.14,440.9 330.88,449.35 331.3,450.1 C331.72,450.85 336.43,457.48 336.9,458 C337.37,458.52 341.8,462.07 342.5,462.5 C343.2,462.93 352.86,467.8 353.8,468.2 C354.74,468.6 363.91,471.86 365,472.1 C366.09,472.34 378.54,473.88 380,474 C381.46,474.12 396.67,474.82 400,474.9 C403.33,474.98 457.5,475.95 460,476" fill="none" stroke="#000000" stroke-width="1.65" stroke-linejoin="round"/>
<circle cx="108.3" cy="289.7" r="2.5" fill="#fff" stroke="#FF1010" stroke-width="2.6"/>
<circle cx="100.6" cy="296.6" r="2.5" fill="#fff" stroke="#FF1010" stroke-width="2.6"/>
<circle cx="80.9" cy="315.7" r="2.5" fill="#fff" stroke="#FF1010" stroke-width="2.6"/>
<path d="M68,476.7 V471.7 M68,273.2 V278.2 M100.75,476.7 V474.2 M100.75,273.2 V275.7 M133.5,476.7 V471.7 M133.5,273.2 V278.2 M166.25,476.7 V474.2 M166.25,273.2 V275.7 M199,476.7 V471.7 M199,273.2 V278.2 M231.75,476.7 V474.2 M231.75,273.2 V275.7 M264.5,476.7 V471.7 M264.5,273.2 V278.2 M297.25,476.7 V474.2 M297.25,273.2 V275.7 M330,476.7 V471.7 M330,273.2 V278.2 M362.75,476.7 V474.2 M362.75,273.2 V275.7 M395.5,476.7 V471.7 M395.5,273.2 V278.2 M428.25,476.7 V474.2 M428.25,273.2 V275.7 M461,476.7 V471.7 M461,273.2 V278.2 M68,476.7 H73 M461,476.7 H456 M68,456.35 H70.5 M461,456.35 H458.5 M68,436 H73 M461,436 H456 M68,415.65 H70.5 M461,415.65 H458.5 M68,395.3 H73 M461,395.3 H456 M68,374.95 H70.5 M461,374.95 H458.5 M68,354.6 H73 M461,354.6 H456 M68,334.25 H70.5 M461,334.25 H458.5 M68,313.9 H73 M461,313.9 H456 M68,293.55 H70.5 M461,293.55 H458.5 M68,273.2 H73 M461,273.2 H456" fill="none" stroke="#262626" stroke-width="1.2"/>
<rect x="68" y="273.2" width="393" height="203.5" fill="none" stroke="#262626" stroke-width="1.3"/>
<text x="68" y="494.6" text-anchor="middle" class="tl">450</text>
<text x="133.5" y="494.6" text-anchor="middle" class="tl">500</text>
<text x="199" y="494.6" text-anchor="middle" class="tl">550</text>
<text x="264.5" y="494.6" text-anchor="middle" class="tl">600</text>
<text x="330" y="494.6" text-anchor="middle" class="tl">650</text>
<text x="395.5" y="494.6" text-anchor="middle" class="tl">700</text>
<text x="461" y="494.6" text-anchor="middle" class="tl">750</text>
<text x="62.7" y="482" text-anchor="end" class="tl">0.0</text>
<text x="62.7" y="441.3" text-anchor="end" class="tl">0.2</text>
<text x="62.7" y="400.6" text-anchor="end" class="tl">0.4</text>
<text x="62.7" y="359.9" text-anchor="end" class="tl">0.6</text>
<text x="62.7" y="319.2" text-anchor="end" class="tl">0.8</text>
<text x="62.7" y="278.5" text-anchor="end" class="tl">1.0</text>
<text x="-1" y="20.2" class="pl">(a)</text>
<text x="-1.1" y="286.2" class="pl">(b)</text>
<text transform="translate(13.6,130.6) rotate(-90)" class="yl">A<tspan class="sub" dy="5.2">WS2</tspan><tspan dy="-5.2">-Au</tspan></text>
<text transform="translate(13.6,398.8) rotate(-90)" class="yl">A<tspan class="sub" dy="5.2">WS2</tspan><tspan dy="-5.2">-Ag</tspan></text>
<text x="201.5" y="255.6" class="xt">Wavelength (nm)</text>
<text x="201.5" y="521.2" class="xt">Wavelength (nm)</text>
<text x="505.3" y="145.3" class="lg" style="fill:#FF5A00;stroke:#FF5A00">1L</text>
<text x="505.3" y="169.77" class="lg" style="fill:#A09C68;stroke:#A09C68">2L</text>
<text x="505.3" y="194.24" class="lg" style="fill:#8B5259;stroke:#8B5259">3L</text>
<text x="505.3" y="218.71" class="lg" style="fill:#22BCC8;stroke:#22BCC8">4L</text>
<text x="505.3" y="243.18" class="lg" style="fill:#D9A020;stroke:#D9A020">5L</text>
<text x="505.3" y="267.65" class="lg" style="fill:#B07AE0;stroke:#B07AE0">6L</text>
<text x="505.3" y="292.12" class="lg" style="fill:#3C9A5F;stroke:#3C9A5F">7L</text>
<text x="505.3" y="316.59" class="lg" style="fill:#3D7FE8;stroke:#3D7FE8">8L</text>
<text x="505.3" y="341.06" class="lg" style="fill:#F03030;stroke:#F03030">9L</text>
<text x="505.3" y="365.53" class="lg" style="fill:#000000;stroke:#000000">10L</text>
</svg>
</body></html>
